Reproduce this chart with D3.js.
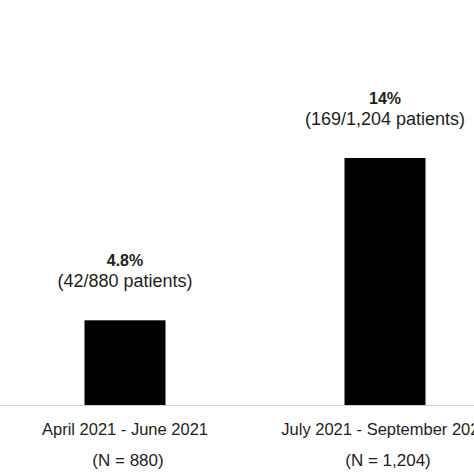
<!DOCTYPE html>
<html>
<head>
<meta charset="utf-8">
<script src="https://cdn.jsdelivr.net/npm/d3@7"></script>
<style>
  html, body { margin: 0; padding: 0; background: #fff; }
  svg { display: block; }
  text { font-family: "Liberation Sans", Arial, sans-serif; fill: #1e1e1e; }
</style>
</head>
<body>
<svg id="chart" width="474" height="474"></svg>
<script>
const categories = ["April 2021 - June 2021", "July 2021 - September 2021"];
const sampleLabels = ["(N = 880)", "(N = 1,204)"];
const percentValues = [4.8, 14];
const percentLabels = ["4.8%", "14%"];
const countLabels = ["(42/880 patients)", "(169/1,204 patients)"];

const W = 474, H = 474;
const baseY = 405;
const svg = d3.select("#chart");

const x = d3.scaleBand().domain(categories).range([-5, 515]).paddingInner(0).paddingOuter(0);
const y = d3.scaleLinear().domain([0, 14]).range([baseY, 158]);
const barW = 81;

const data = categories.map((c, i) => ({
  cat: c, n: sampleLabels[i], v: percentValues[i], pl: percentLabels[i], cl: countLabels[i]
}));

// bars
svg.selectAll("rect.bar").data(data).join("rect")
  .attr("class", "bar")
  .attr("x", d => x(d.cat) + x.bandwidth() / 2 - barW / 2)
  .attr("width", barW)
  .attr("y", d => y(d.v))
  .attr("height", d => y(0) - y(d.v))
  .attr("fill", "#000");

// baseline axis
const xAxis = d3.axisBottom(x).tickSize(0).tickFormat("");
const gx = svg.append("g").attr("transform", `translate(0,${baseY})`).call(xAxis);
gx.select(".domain").attr("d", `M0,0.5H${W}`).attr("stroke", "#d0d0d0").attr("stroke-width", 1.2);

// value labels
svg.selectAll("text.pct").data(data).join("text")
  .attr("class", "pct")
  .attr("x", d => x(d.cat) + x.bandwidth() / 2)
  .attr("y", d => y(d.v) - 54)
  .attr("text-anchor", "middle")
  .style("font-size", "16px")
  .style("font-weight", "bold")
  .text(d => d.pl);

svg.selectAll("text.cnt").data(data).join("text")
  .attr("class", "cnt")
  .attr("x", d => x(d.cat) + x.bandwidth() / 2)
  .attr("y", d => y(d.v) - 33)
  .attr("text-anchor", "middle")
  .style("font-size", "18px")
  .text(d => d.cl);

// category labels
svg.selectAll("text.cat").data(data).join("text")
  .attr("class", "cat")
  .attr("x", d => x(d.cat) + x.bandwidth() / 2)
  .attr("y", baseY + 30)
  .attr("text-anchor", "middle")
  .style("font-size", "16.5px")
  .text(d => d.cat);

svg.selectAll("text.n").data(data).join("text")
  .attr("class", "n")
  .attr("x", d => x(d.cat) + x.bandwidth() / 2 + 3)
  .attr("y", baseY + 61)
  .attr("text-anchor", "middle")
  .style("font-size", "17px")
  .text(d => d.n);
</script>
</body>
</html>
